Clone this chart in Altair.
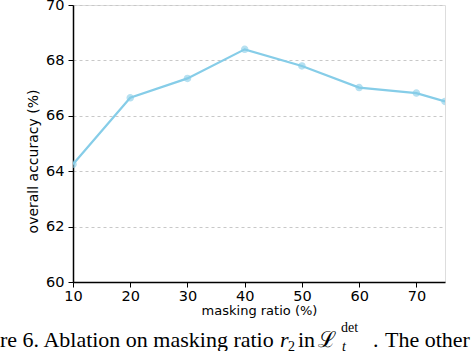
import altair as alt
import pandas as pd

masking_ratio = [10, 20, 30, 40, 50, 60, 70, 75]
accuracy = [64.25, 66.65, 67.35, 68.4, 67.8, 67.02, 66.82, 66.52]
x_ticks = [10, 20, 30, 40, 50, 60, 70]
y_ticks = [60, 62, 64, 66, 68, 70]

df = pd.DataFrame({"ratio": masking_ratio, "acc": accuracy})

LINE = "#86CDE8"

x = alt.X("ratio:Q", scale=alt.Scale(domain=[10, 75], nice=False, zero=False),
          axis=alt.Axis(values=x_ticks, title="masking ratio (%)", grid=False,
                        labelFont="DejaVu Sans", labelFontSize=14.5, labelColor="black",
                        titleFont="DejaVu Sans", titleFontSize=13, titleFontWeight="normal",
                        titleColor="black", titlePadding=2,
                        domainColor="black", domainWidth=1.5, tickColor="black",
                        tickSize=5, tickWidth=1, labelPadding=2, labelFlush=False))
y = alt.Y("acc:Q", scale=alt.Scale(domain=[60, 70], nice=False, zero=False),
          axis=alt.Axis(values=y_ticks, title="overall accuracy (%)", grid=True,
                        gridDash=[3, 3], gridColor="#c8c8c8", gridWidth=1,
                        labelFont="DejaVu Sans", labelFontSize=14.5, labelColor="black",
                        titleFont="DejaVu Sans", titleFontSize=14, titleFontWeight="normal",
                        titleColor="black", titleX=-40, titleY=156,
                        titleAlign="center", titleBaseline="middle",
                        domainColor="black", domainWidth=1.5, tickColor="black",
                        tickSize=5, tickWidth=1, labelPadding=4, labelFlush=False))

line = alt.Chart(df).mark_line(color=LINE, strokeWidth=2.2, clip=True).encode(x=x, y=y)
pts = alt.Chart(df).mark_point(shape="circle", size=40, filled=True, color=LINE,
                               opacity=0.6, stroke=LINE, strokeWidth=1.2, clip=True).encode(x=x, y=y)

def cap(text, xabs, dy=0, size=22, style="normal"):
    return alt.Chart(pd.DataFrame({"t": [text]})).mark_text(
        font="Liberation Serif", fontSize=size, fontStyle=style, color="black",
        align="left", baseline="alphabetic").encode(
        x=alt.value(xabs - 73), y=alt.value(342 + dy), text="t:N")

caption = [
    cap("re 6. Ablation on masking ratio", 0),
    cap("r", 280, style="italic"),
    cap("2", 288, dy=4, size=14),
    cap("in", 298),
    cap("ℒ", 318),
    cap("det", 341, dy=-15, size=14),
    cap("t", 342, dy=4, size=14, style="italic"),
    cap(".", 373),
    cap("The other", 385),
]

chart = alt.layer(line, pts, *caption).properties(
    width=372, height=277,
    autosize=alt.AutoSizeParams(type="none"),
    padding={"left": 73, "top": 5, "right": 29, "bottom": 69},
).configure_view(stroke="#444", strokeWidth=1.5).configure(background="white")

chart.save("out.html", embed_options={"renderer": "svg", "actions": False})
